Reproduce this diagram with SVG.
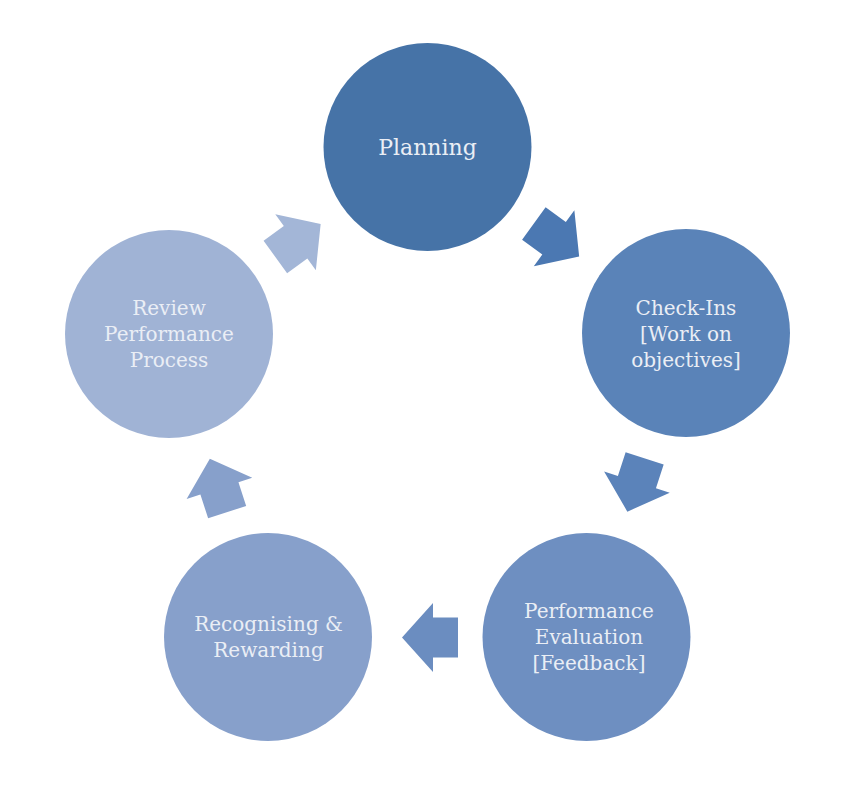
<svg xmlns="http://www.w3.org/2000/svg" xmlns:xlink="http://www.w3.org/1999/xlink" width="852" height="790" viewBox="0 0 852 790">
  <defs>
    <path id="arrow" d="M-28,-20 L-3,-20 L-3,-34.5 L28,0 L-3,34.5 L-3,20 L-28,20 Z"/>
  </defs>
  <style>
    .lbl { font-family: "DejaVu Serif", "Liberation Serif", serif; font-size: 20px; fill: #EAEEF5; text-anchor: middle; }
  </style>
  <rect width="852" height="790" fill="#ffffff"/>
  <g id="connectors">
    <use xlink:href="#arrow" href="#arrow" transform="translate(556.5,240) rotate(36)" fill="#4B78B2"/>
    <use xlink:href="#arrow" href="#arrow" transform="translate(636,485) rotate(108)" fill="#5B83BA"/>
    <use xlink:href="#arrow" href="#arrow" transform="translate(430,637.5) rotate(180)" fill="#6B8DC0"/>
    <use xlink:href="#arrow" href="#arrow" transform="translate(218.5,485.5) rotate(252)" fill="#87A0CB"/>
    <use xlink:href="#arrow" href="#arrow" transform="translate(298,240.5) rotate(324)" fill="#A3B6D7"/>
  </g>
  <g id="planning">
    <circle cx="427.5" cy="147" r="104" fill="#4673A7"/>
    <text class="lbl" x="427.5" y="155" style="font-size:22px">Planning</text>
  </g>
  <g id="checkins">
    <circle cx="686" cy="333" r="104" fill="#5A83B8"/>
    <text class="lbl" x="686" y="315">Check-Ins</text>
    <text class="lbl" x="686" y="341">[Work on</text>
    <text class="lbl" x="686" y="367">objectives]</text>
  </g>
  <g id="evaluation">
    <circle cx="586.5" cy="637" r="104" fill="#6E8FC1"/>
    <text class="lbl" x="589" y="618">Performance</text>
    <text class="lbl" x="589" y="644">Evaluation</text>
    <text class="lbl" x="589" y="670">[Feedback]</text>
  </g>
  <g id="rewarding">
    <circle cx="268" cy="637" r="104" fill="#87A0CB"/>
    <text class="lbl" x="268.5" y="631">Recognising &amp;</text>
    <text class="lbl" x="268.5" y="657">Rewarding</text>
  </g>
  <g id="review">
    <circle cx="169" cy="334" r="104" fill="#A0B3D5"/>
    <text class="lbl" x="169" y="315">Review</text>
    <text class="lbl" x="169" y="341">Performance</text>
    <text class="lbl" x="169" y="367">Process</text>
  </g>
</svg>
